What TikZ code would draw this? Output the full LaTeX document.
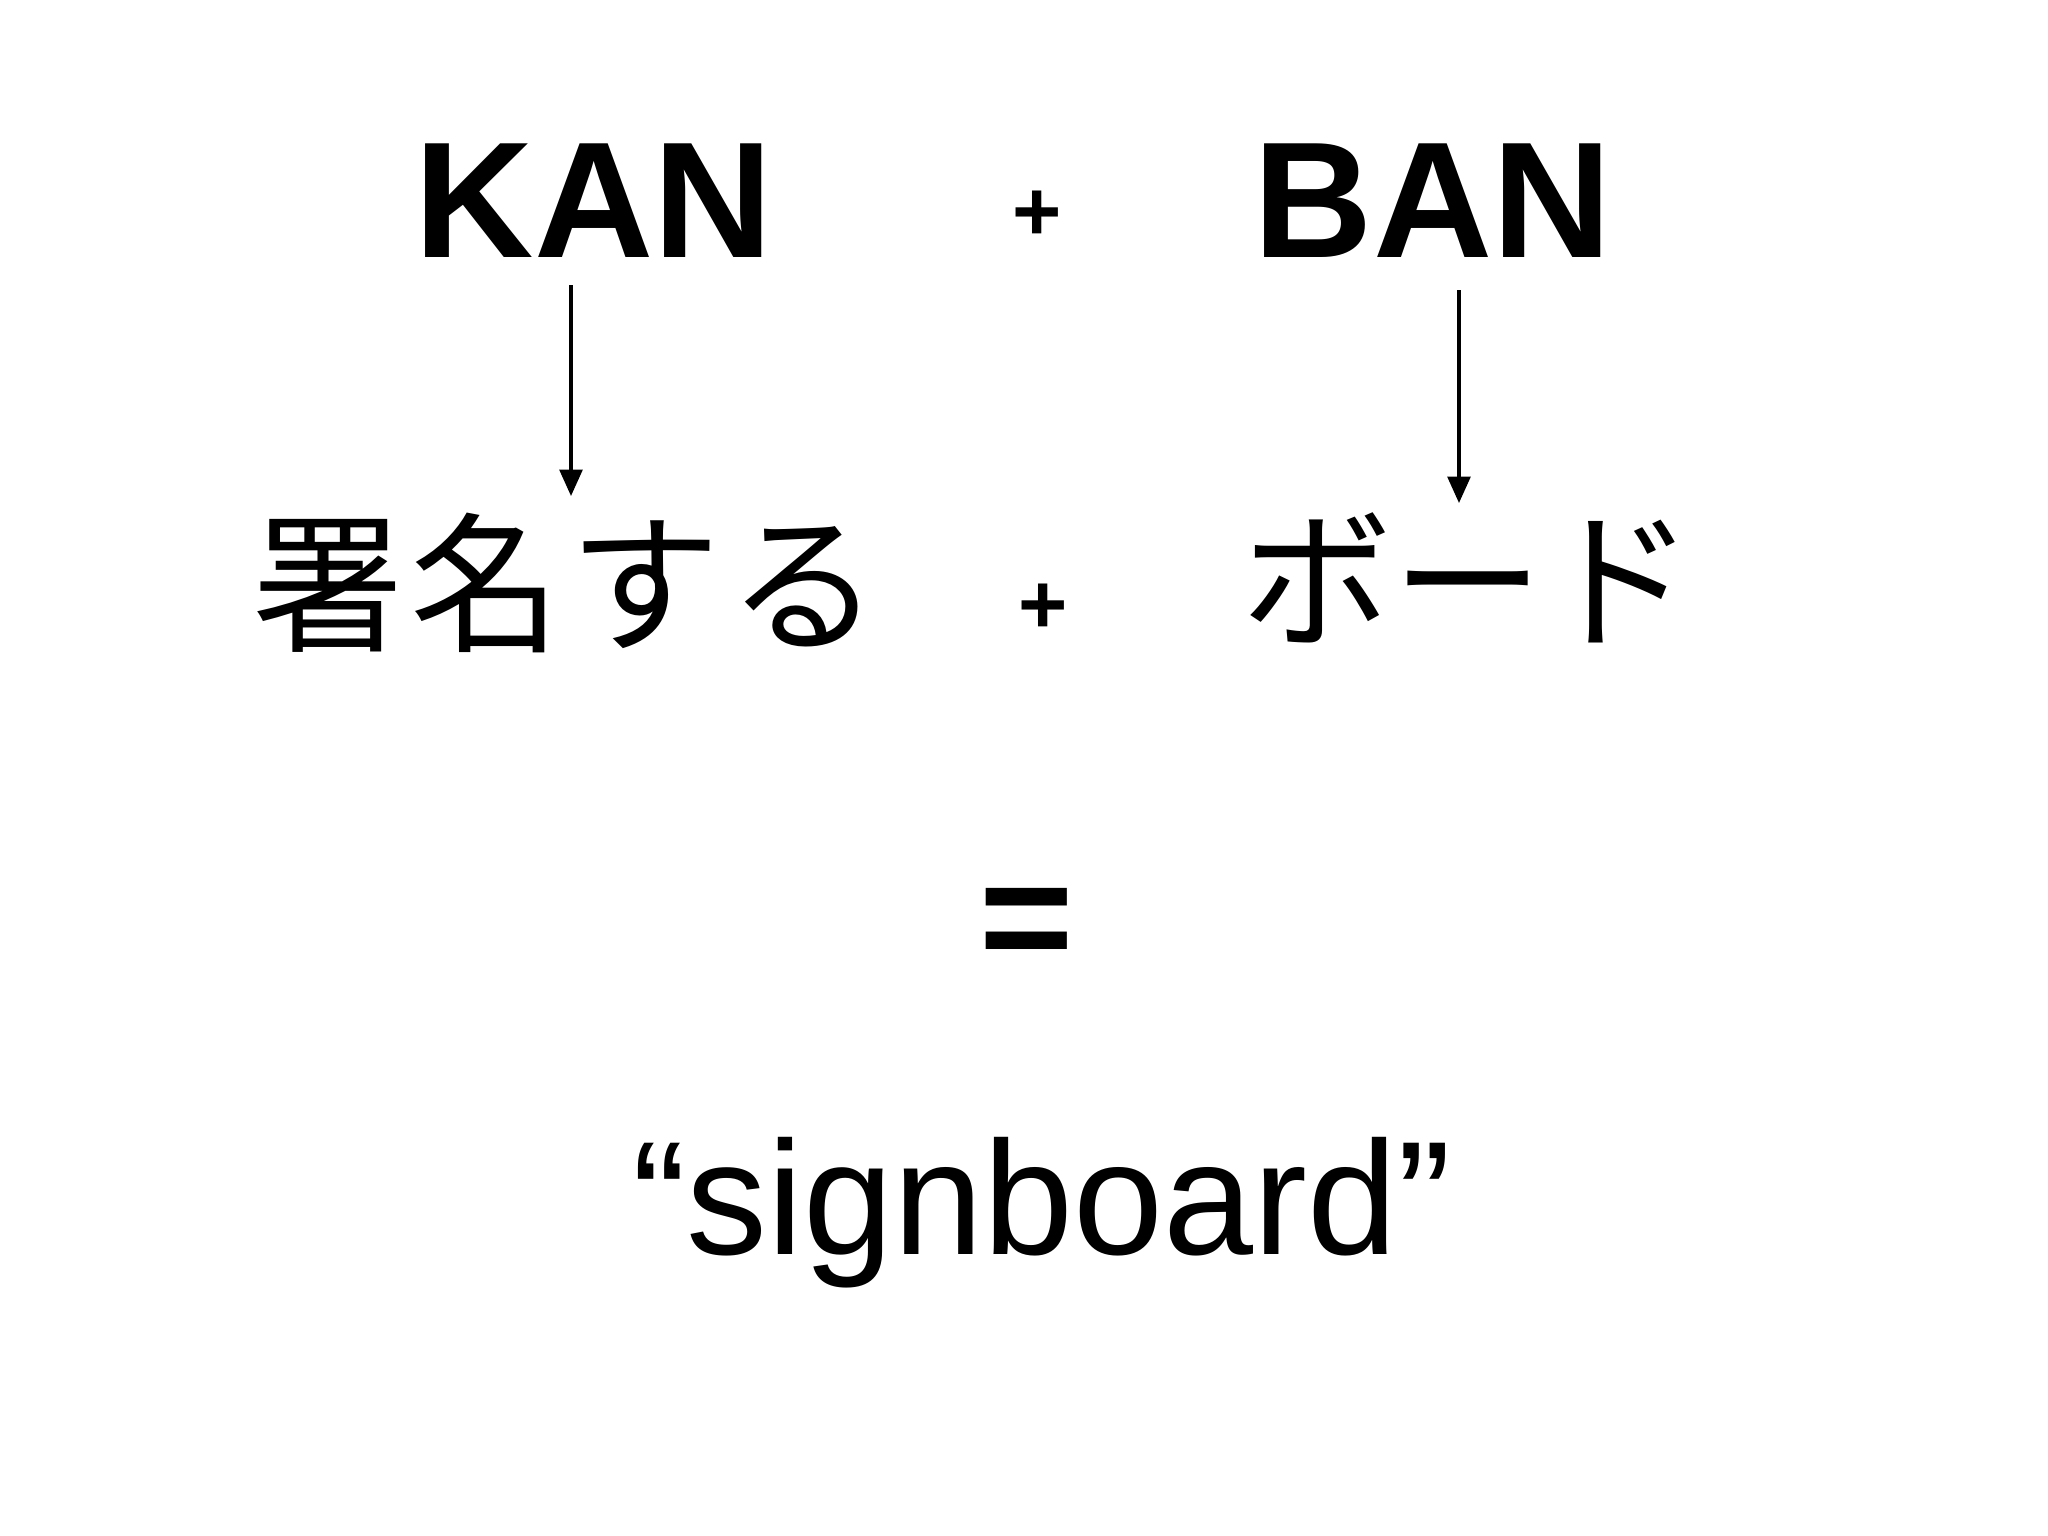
\documentclass[tikz,border=0pt]{standalone}
\usepackage{fontspec}
\setmainfont{Liberation Sans}
\newfontfamily\jpfont{Noto Sans CJK JP}
\newfontfamily\jpfontwide[LetterSpace=5]{Noto Sans CJK JP}
\usetikzlibrary{arrows.meta}
\begin{document}
\begin{tikzpicture}[x=0.01cm,y=-0.01cm,
  big/.style={font=\fontsize{47}{50}\selectfont\bfseries, inner sep=0pt, anchor=base},
  plussign/.style={font=\fontsize{24}{26}\selectfont\bfseries, inner sep=0pt, anchor=base},
  jp/.style={font=\fontsize{43}{46}\selectfont\jpfont, inner sep=0pt, anchor=center},
  jpwide/.style={font=\fontsize{43}{46}\selectfont\jpfontwide, inner sep=0pt, anchor=center},
  eqsign/.style={font=\fontsize{46}{50}\selectfont\bfseries, inner sep=0pt, anchor=base},
  word/.style={font=\fontsize{46}{50}\selectfont, inner sep=0pt, anchor=base},
  arr/.style={-{Triangle[length=7.5pt,width=6.5pt]}, line width=0.9pt}]
\useasboundingbox (0,0) rectangle (2048,1536);
\node[big] (kan) at (594,257) {KAN};
\node[big] (ban) at (1433,257) {BAN};
\node[plussign] (p1) at (1037,240) {+};
\node[jpwide] (sho) at (566,583) {署名する};
\node[jp] (bod) at (1468,578) {ボード};
\node[plussign] (p2) at (1043,633) {+};
\node[eqsign] (eq) at (1027,972) {=};
\node[word] (sb) at (1042,1254) {“signboard”};
\draw[arr] ([shift={(-23,28)}]kan.base) -- ([shift={(5,-87)}]sho.center);
\draw[arr] ([shift={(26,33)}]ban.base) -- ([shift={(-9,-75)}]bod.center);
\end{tikzpicture}
\end{document}
